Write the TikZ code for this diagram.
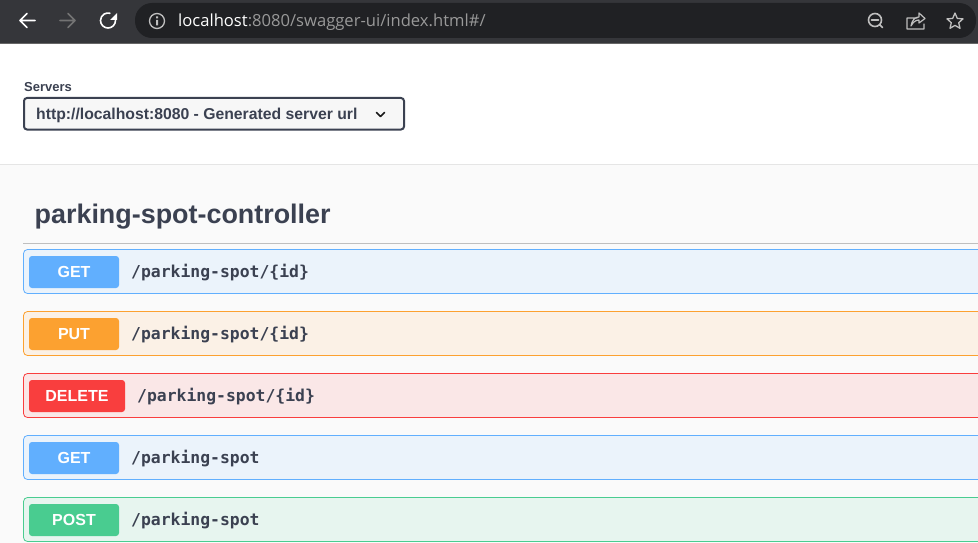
\documentclass[tikz,border=0pt]{standalone}
\usepackage{fontspec}
\setmainfont{Liberation Sans}
\setmonofont{DejaVu Sans Mono}
\newfontfamily\urlfont{Open Sans}
\usetikzlibrary{positioning}

\definecolor{barcol}{HTML}{35363A}
\definecolor{pillcol}{HTML}{202124}
\definecolor{inkcol}{HTML}{3B4151}
\definecolor{getcol}{HTML}{61AFFE}
\definecolor{getbg}{HTML}{EBF3FB}
\definecolor{putcol}{HTML}{FCA130}
\definecolor{putbg}{HTML}{FBF1E6}
\definecolor{delcol}{HTML}{F93E3E}
\definecolor{delbg}{HTML}{FAE7E7}
\definecolor{postcol}{HTML}{49CC90}
\definecolor{postbg}{HTML}{E7F5EF}

\tikzset{
  rowbox/.style={draw=#1, line width=.8pt, rounded corners=4pt, anchor=north west, inner sep=0pt, outer sep=0pt, minimum width=1000pt, minimum height=44pt},
  badge/.style={fill=#1, rounded corners=3pt, anchor=north west, inner sep=0pt, outer sep=0pt, minimum height=32pt, text=white, font=\bfseries\fontsize{16}{16}\selectfont},
  pathlabel/.style={anchor=base west, inner sep=0pt, text=inkcol, font=\ttfamily\bfseries\fontsize{16.4}{16}\selectfont},
  icon/.style={line width=1.6pt, draw=#1, line cap=round, line join=round},
}

\begin{document}
\begin{tikzpicture}[x=1pt, y=-1pt]
  \useasboundingbox (0,0) rectangle (978,543);
  \clip (0,0) rectangle (978,543);
  % page and browser bar
  \fill[white] (0,0) rectangle (978,164);
  \fill[black!2] (0,165) rectangle (978,543);
  \draw[black!10] (0,164.5) -- (978,164.5);
  \fill[barcol] (0,0) rectangle (978,43);
  \draw[black!60] (0,43) -- (978,43);
  \fill[pillcol, rounded corners=17pt] (135,3) rectangle (976,38);

  % back, forward, reload
  \draw[icon=white] (35,20.5) -- (20,20.5) (27,13.5) -- (20,20.5) -- (27,27.5);
  \draw[icon=black!55] (60,20.5) -- (75,20.5) (68,13.5) -- (75,20.5) -- (68,27.5);
  \draw[icon=white] (115.5,20.5) arc (0:285:7.5);
  \fill[white] (117,13) -- (117,20) -- (110,20) -- cycle;
  % site info
  \draw[icon=black!25, line width=1.3pt] (157,21) circle (7.5);
  \fill[black!25] (156,20) rectangle (158,25.5) (156,16.5) rectangle (158,18.5);

  \node (url) [anchor=base west, inner sep=0pt, text=black!40, font=\urlfont\fontsize{16.6}{17}\selectfont] at (178,27) {\textcolor{white}{localhost}:8080/swagger-ui/index.html\#/};

  % zoom, share, star
  \draw[icon=black!25] (875,20) circle (6.5) (871.5,20) -- (878.5,20) (880,25) -- (882.5,27.5);
  \draw[icon=black!25, line width=1.2pt] (917,18) -- (907,18) -- (907,29) -- (924,29) -- (924,24)
    (911,26) .. controls (912,20) and (915,17) .. (919,17) -- (919,13) -- (925,18.5) -- (919,23) -- (919,20) .. controls (916,20) and (913,22) .. (911,26);
  \draw[icon=black!25, line width=1.3pt] (955,13) -- (957.3,18.4) -- (963,18.9) -- (958.7,22.7) -- (960,28.3) -- (955,25.4) -- (950,28.3) -- (951.3,22.7) -- (947,18.9) -- (952.7,18.4) -- cycle;

  % servers
  \node (servers) [anchor=base west, inner sep=0pt, text=inkcol, font=\bfseries\fontsize{13}{13}\selectfont] at (24,91.5) {Servers};
  \node (select) [draw=inkcol, fill=black!3, line width=2pt, rounded corners=3pt, anchor=north west, inner sep=0pt, outer sep=0pt, minimum width=380pt, minimum height=31.5pt] at (24,98) {};
  \node (selecttext) [anchor=base west, inner sep=0pt, text=inkcol, font=\bfseries\fontsize{15.75}{16}\selectfont] at (36,119) {http://localhost:8080 - Generated server url};
  \draw[line width=1.5pt, line cap=round, line join=round, draw=black!90] (376.5,112.5) -- (380.5,116.5) -- (384.5,112.5);

  % controller heading
  \node (title) [anchor=base west, inner sep=0pt, text=inkcol, font=\bfseries\fontsize{26.9}{27}\selectfont] at (34.5,223) {parking-spot-controller};
  \draw[black!25] (23,243.5) -- (978,243.5);

  % operations
  \foreach \name/\rowy/\verbname/\colname/\wide/\pathname in {
      one/249.5/GET/get/90/{/parking-spot/\{id\}},
      two/311.5/PUT/put/90/{/parking-spot/\{id\}},
      three/373.5/DELETE/del/96/{/parking-spot/\{id\}},
      four/435.5/GET/get/90/{/parking-spot},
      five/497.5/POST/post/90/{/parking-spot}}
  {
    \node (\name) [rowbox=\colname col, fill=\colname bg] at (23.5,\rowy) {};
    \node (\name-verb) [badge=\colname col, minimum width=\wide pt] at (29,\rowy+6.5) {\raisebox{.8pt}{\verbname}};
    \node (\name-path) [pathlabel] at (29+\wide+12,\rowy+27.5) {\pathname};
  }
\end{tikzpicture}
\end{document}
